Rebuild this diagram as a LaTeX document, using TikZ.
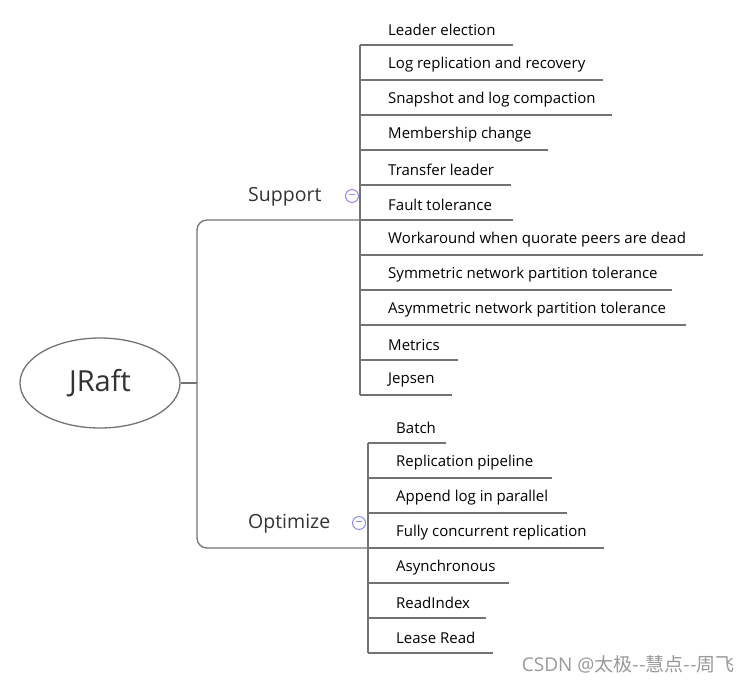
\documentclass[tikz,border=0pt]{standalone}
\usepackage{fontspec}
\usetikzlibrary{shapes.geometric}
\setmainfont{Open Sans}
\newfontfamily\cjk{Noto Sans CJK SC}
\begin{document}
\begin{tikzpicture}[x=1pt,y=-1pt,
  ln/.style={draw=black!55,line width=1.3pt},
  item/.style={anchor=west,inner sep=0pt,font=\fontsize{15}{17}\selectfont},
  br/.style={anchor=west,inner sep=0pt,font=\fontsize{19.5}{22}\selectfont,text=black!80},
  ico/.style={circle,draw=blue!45,line width=1pt,minimum size=13pt,inner sep=0pt}]
\useasboundingbox (0,0) rectangle (749,685);
\node[ellipse,draw=black!55,line width=1.3pt,minimum width=160pt,minimum height=90pt,font=\fontsize{29}{32}\selectfont,text=black!80] (root) at (100,383) {JRaft};
\coordinate (j) at (197,383);
\draw[ln] (root.east) -- (j);
% Support
\coordinate (sh) at (360,220);
\draw[ln,rounded corners=10pt] (j) -- (197,220) -- (sh);
\node[br] (sup) at (248,197) {Support};
\node[ico] (si) at (352,196) {\textcolor{blue!45}{\rule[2.5pt]{6pt}{1pt}}};
\coordinate (st) at (360,45);
\coordinate (sb) at (360,395);
\draw[ln] (st) -- (sb);
\foreach \t/\y/\e/\n in {Leader election/45/513/s1,Log replication and recovery/80/603/s2,Snapshot and log compaction/115/612/s3,Membership change/150/548/s4,Transfer leader/185/511/s5,Fault tolerance/220/513/s6,Workaround when quorate peers are dead/255/703/s7,Symmetric network partition tolerance/290/672/s8,Asymmetric network partition tolerance/325/686/s9,Metrics/360/458/s10,Jepsen/395/452/s11}{
  \node[item] (\n) at (388,\y-15) {\t};
  \coordinate (\n e) at (\e,\y);
  \draw[ln] (360,\y) -- (\n e);
}
% Optimize
\coordinate (oh) at (368,548);
\draw[ln,rounded corners=10pt] (j) -- (197,548) -- (oh);
\node[br] (opt) at (248,524) {Optimize};
\node[ico] (oi) at (359,523) {\textcolor{blue!45}{\rule[2.5pt]{6pt}{1pt}}};
\coordinate (ot) at (368,443);
\coordinate (ob) at (368,653);
\draw[ln] (ot) -- (ob);
\foreach \t/\y/\e/\n in {Batch/443/446/o1,Replication pipeline/478/552/o2,Append log in parallel/513/567/o3,Fully concurrent replication/548/604/o4,Asynchronous/583/509/o5,ReadIndex/618/486/o6,Lease Read/653/493/o7}{
  \node[item] (\n) at (396,\y-15) {\t};
  \coordinate (\n e) at (\e,\y);
  \draw[ln] (368,\y) -- (\n e);
}
\node[anchor=east,inner sep=0pt,text=black!40,font=\fontsize{19}{21}\selectfont] (wm) at (735,664) {CSDN @{\cjk 太极--慧点--周飞}};
\end{tikzpicture}
\end{document}
